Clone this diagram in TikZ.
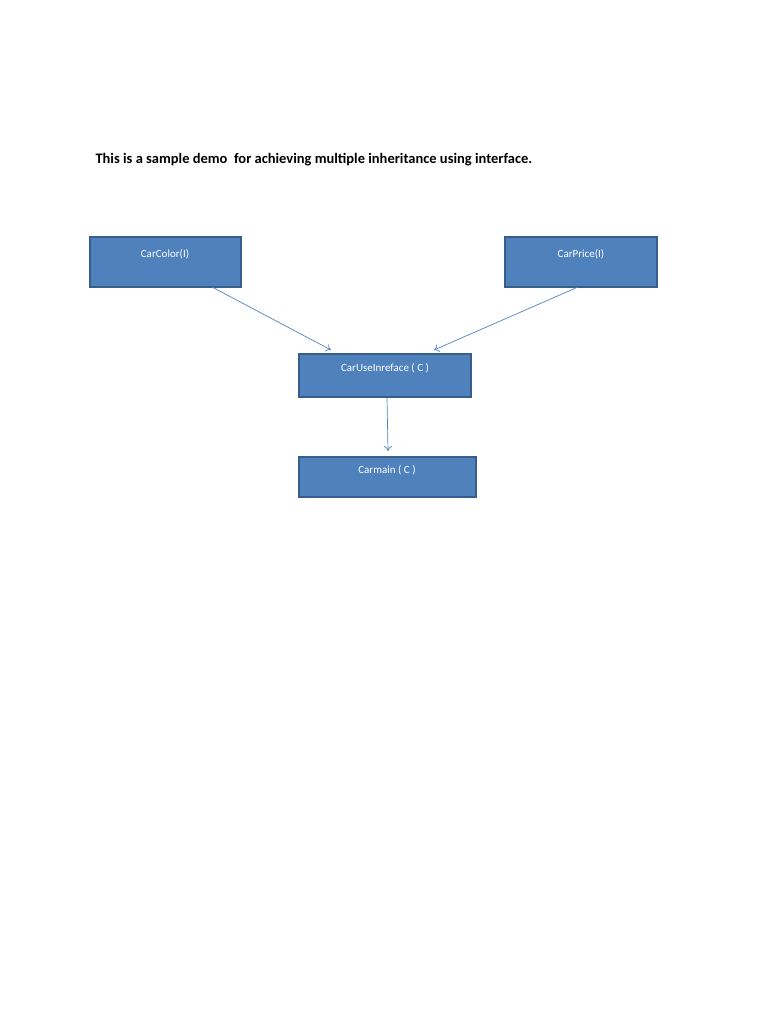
\documentclass[tikz,border=0pt]{standalone}
\usepackage{fontspec}
\setmainfont{Carlito}
\usetikzlibrary{arrows.meta}
\definecolor{boxfill}{HTML}{4F81BD}
\definecolor{boxline}{HTML}{385D8A}
\begin{document}
\begin{tikzpicture}[x=1pt,y=-1pt,
  cbox/.style={draw=boxline,line width=1.5pt,fill=boxfill},
  lbl/.style={text=white,font=\fontsize{11}{13}\selectfont},
  conn/.style={draw=boxfill,line width=0.7pt,-{To[length=5pt,width=8pt]}}]
\useasboundingbox (0,0) rectangle (768,1024);
\node[anchor=west,font=\bfseries\fontsize{14.5}{17}\selectfont] (title) at (92,160) {This is a sample demo\ \ for achieving multiple inheritance using interface.};
\draw[cbox] (90,237) rectangle (241,287);
\node[lbl] (cc) at (165,254) {CarColor(I)};
\coordinate (ccb) at (212,287);
\draw[cbox] (505,237) rectangle (657,287);
\node[lbl] (cp) at (581,254) {CarPrice(I)};
\coordinate (cpb) at (578,287);
\draw[cbox] (299,354) rectangle (471,397);
\node[lbl] (cu) at (385,368) {CarUseInreface ( C )};
\coordinate (cut1) at (331,350);
\coordinate (cut2) at (434,350);
\coordinate (cub) at (387,398);
\draw[cbox] (299,457) rectangle (476,497);
\node[lbl] (cm) at (387,470) {Carmain ( C )};
\coordinate (cmt) at (388,451);
\draw[conn] (ccb) -- (cut1);
\draw[conn] (cpb) -- (cut2);
\draw[conn] (cub) -- (cmt);
\end{tikzpicture}
\end{document}
